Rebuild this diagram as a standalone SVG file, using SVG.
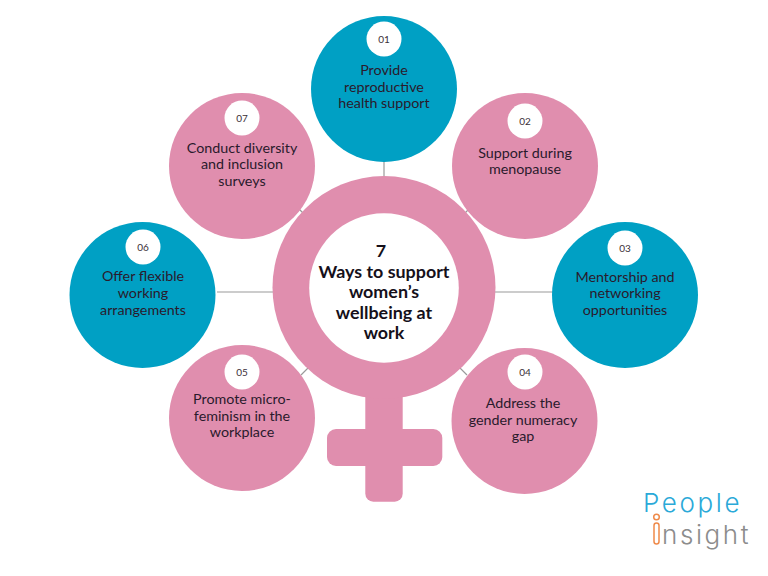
<svg xmlns="http://www.w3.org/2000/svg" width="768" height="576" viewBox="0 0 768 576">
<style>
.pink{fill:#e08eae}
.blue{fill:#00a0c4}
.t{font-family:Lato,"Open Sans",sans-serif;font-size:14.3px;fill:#2a1a2c;text-anchor:middle}
.n{font-family:Lato,"Open Sans",sans-serif;font-size:10px;fill:#3a3038;text-anchor:middle}
.h{font-family:Lato,"Open Sans",sans-serif;font-size:17.9px;font-weight:700;fill:#15101a;text-anchor:middle}
.l{stroke:#9a9a9a;stroke-width:1.2;fill:none}
.logo{font-family:Inter,Lato,sans-serif;font-weight:300;font-size:26px;letter-spacing:2.6px}
</style>
<rect width="768" height="576" fill="#fff"/>
<g id="connectors">
<path class="l" d="M384 160V180M299 209L316 226M469 209L452 226M217 292H276M492 292H553M301 375L316 360M467 375L452 360"/>
</g>
<g id="node-01"><circle class="blue" cx="384" cy="89" r="73"/><circle cx="384" cy="39" r="17.500" fill="#fff"/><text class="n" x="384" y="42.500">01</text><text class="t" x="384" y="75">Provide</text><text class="t" x="384" y="92">reproductive</text><text class="t" x="384" y="108">health support</text></g>
<g id="node-02"><circle class="pink" cx="525" cy="166" r="73"/><circle cx="525" cy="121" r="17.500" fill="#fff"/><text class="n" x="525" y="124.500">02</text><text class="t" x="525" y="158">Support during</text><text class="t" x="525" y="174">menopause</text></g>
<g id="node-03"><circle class="blue" cx="625" cy="295" r="73"/><circle cx="625" cy="248" r="17.500" fill="#fff"/><text class="n" x="625" y="251.500">03</text><text class="t" x="625" y="282">Mentorship and</text><text class="t" x="625" y="298">networking</text><text class="t" x="625" y="315">opportunities</text></g>
<g id="node-04"><circle class="pink" cx="524.500" cy="421" r="73"/><circle cx="525" cy="372" r="17.500" fill="#fff"/><text class="n" x="525" y="375.500">04</text><text class="t" x="523" y="408">Address the</text><text class="t" x="523" y="424.500">gender numeracy</text><text class="t" x="523" y="441">gap</text></g>
<g id="node-05"><circle class="pink" cx="242" cy="418" r="73"/><circle cx="242" cy="372" r="17.500" fill="#fff"/><text class="n" x="242" y="375.500">05</text><text class="t" x="242" y="404">Promote micro-</text><text class="t" x="242" y="420.500">feminism in the</text><text class="t" x="242" y="437">workplace</text></g>
<g id="node-06"><circle class="blue" cx="142.500" cy="295" r="73"/><circle cx="143" cy="247" r="17.500" fill="#fff"/><text class="n" x="143" y="250.500">06</text><text class="t" x="143" y="281">Offer flexible</text><text class="t" x="143" y="298">working</text><text class="t" x="143" y="314.500">arrangements</text></g>
<g id="node-07"><circle class="pink" cx="242" cy="166" r="73"/><circle cx="242" cy="118" r="17.500" fill="#fff"/><text class="n" x="242" y="121.500">07</text><text class="t" x="242" y="152.500">Conduct diversity</text><text class="t" x="242" y="169">and inclusion</text><text class="t" x="242" y="185.500">surveys</text></g>
<g id="center">
<rect class="pink" x="365.300" y="380" width="37.400" height="121.700" rx="8"/>
<rect class="pink" x="327" y="429" width="115.300" height="37" rx="9"/>
<circle class="pink" cx="384" cy="287.500" r="111.500"/>
<circle cx="384" cy="288" r="74.800" fill="#fff"/>
<text class="h" x="381" y="257">7</text>
<text class="h" x="384" y="278">Ways to support</text>
<text class="h" x="384" y="298">women’s</text>
<text class="h" x="384" y="318.500">wellbeing at</text>
<text class="h" x="384" y="338.500">work</text>
</g>
<g id="logo">
<text class="logo" x="643" y="512" fill="#2aa9d8">People</text>
<circle cx="656.500" cy="517" r="2.800" fill="none" stroke="#ef8a4a" stroke-width="1.500"/>
<rect x="654" y="523" width="5" height="21" rx="2.500" fill="none" stroke="#ef8a4a" stroke-width="1.500"/>
<text class="logo" x="662" y="544" fill="#8c8c8c">nsight</text>
</g>
</svg>
